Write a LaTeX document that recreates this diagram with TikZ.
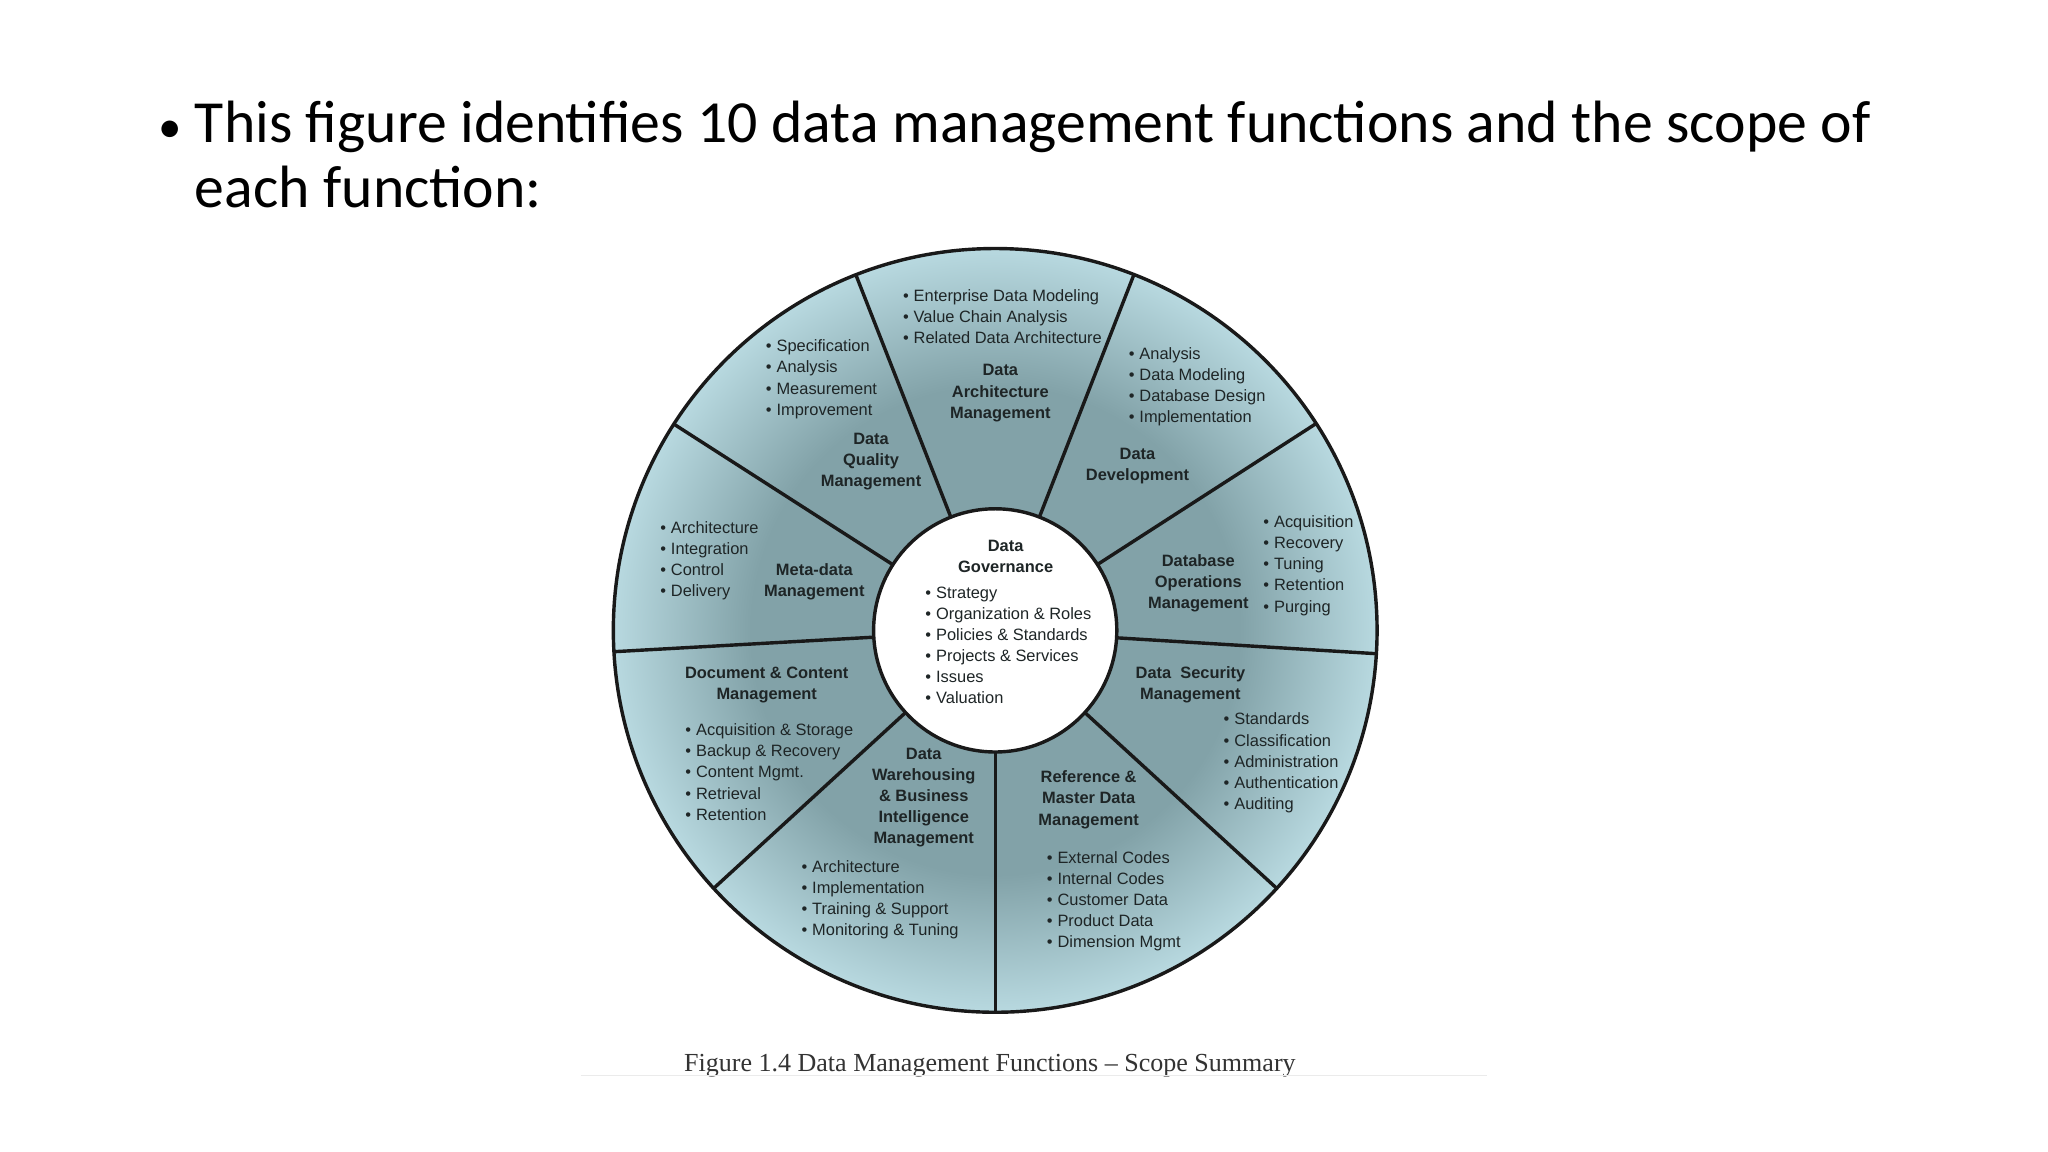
\documentclass[tikz,border=0pt]{standalone}
\usepackage{fontspec}
\usetikzlibrary{calc}
\setmainfont{Liberation Sans}
\newfontfamily\calib{Carlito}
\newfontfamily\capfont{Liberation Serif}
\definecolor{wdark}{HTML}{82A2A8}
\definecolor{wlight}{HTML}{BEDFE6}
\definecolor{wtxt}{HTML}{1E2526}
\pgfdeclareradialshading{wheelshade}{\pgfpoint{0bp}{0bp}}{color(0bp)=(wdark); color(16bp)=(wdark); color(26bp)=(wlight); color(50bp)=(wlight)}
\newcommand{\itm}{\textbullet\hspace{0.3em}}
\tikzset{
  lst/.style={anchor=west, align=left, inner sep=0pt, font=\fontsize{7.7}{9.9}\selectfont, text=wtxt},
  ttl/.style={anchor=center, align=center, inner sep=0pt, font=\fontsize{7.7}{9.9}\selectfont\bfseries, text=wtxt},
  rim/.style={line width=1.6pt, draw=black!90},
}
\begin{document}
\begin{tikzpicture}[x=1pt,y=1pt]
\useasboundingbox (0,0) rectangle (960,540);
\fill[white] (0,0) rectangle (960,540);
% title
\node[anchor=base west, inner sep=0pt, font=\calib\fontsize{28}{31}\selectfont] (bul) at (74.2,473.2) {\fontsize{22}{31}\selectfont•};
\node[anchor=base west, inner sep=0pt, font=\calib\fontsize{28}{31}\selectfont] (t1) at (91.2,473.2) {This figure identifies 10 data management functions and the scope of};
\node[anchor=base west, inner sep=0pt, font=\calib\fontsize{28}{31}\selectfont] (t2) at (91.2,442.9) {each function:};
% wheel
\coordinate (c) at (466.5,244.5);
\shade[shading=wheelshade] (c) circle (179);
\draw[rim] (c) circle (179);
\foreach \a in {111.4,68.7,32.8,-3.5,-42.5,-90,-137.5,183.2,147.3}
  \draw[rim] ($(c)+(\a:57)$) -- ($(c)+(\a:179)$);
\fill[white] (c) circle (57);
\draw[rim] (c) circle (57);
% labels
\node[lst] (dal) at (423.1,391.5) {\itm Enterprise Data Modeling\\\itm Value Chain Analysis\\\itm Related Data Architecture};
\node[ttl] (dat) at (468.9,355.7) {Data\\Architecture\\Management};
\node[lst] (dql) at (358.8,362.2) {\itm Specification\\\itm Analysis\\\itm Measurement\\\itm Improvement};
\node[ttl] (dqt) at (408.3,323.5) {Data\\Quality\\Management};
\node[lst] (ddl) at (528.9,358.7) {\itm Analysis\\\itm Data Modeling\\\itm Database Design\\\itm Implementation};
\node[ttl] (ddt) at (533.2,321.6) {Data\\Development};
\node[ttl] (dbt) at (561.7,266.6) {Database\\Operations\\Management};
\node[lst] (dbl) at (592.0,274.9) {\itm Acquisition\\\itm Recovery\\\itm Tuning\\\itm Retention\\\itm Purging};
\node[ttl] (dst) at (558.0,219.0) {Data\ \ Security\\Management};
\node[lst] (dsl) at (573.4,182.4) {\itm Standards\\\itm Classification\\\itm Administration\\\itm Authentication\\\itm Auditing};
\node[ttl] (rmt) at (510.3,165.1) {Reference \&\\Master Data\\Management};
\node[lst] (rml) at (490.5,117.5) {\itm External Codes\\\itm Internal Codes\\\itm Customer Data\\\itm Product Data\\\itm Dimension Mgmt};
\node[ttl] (dwt) at (433.0,166.1) {Data\\Warehousing\\\& Business\\Intelligence\\Management};
\node[lst] (dwl) at (375.5,118.1) {\itm Architecture\\\itm Implementation\\\itm Training \& Support\\\itm Monitoring \& Tuning};
\node[ttl] (dct) at (359.4,219.0) {Document \& Content\\Management};
\node[lst] (dcl) at (321.1,178.1) {\itm Acquisition \& Storage\\\itm Backup \& Recovery\\\itm Content Mgmt.\\\itm Retrieval\\\itm Retention};
\node[ttl] (mdt) at (381.7,267.2) {Meta-data\\Management};
\node[lst] (mdl) at (309.3,277.1) {\itm Architecture\\\itm Integration\\\itm Control\\\itm Delivery};
\node[ttl] (dgt) at (471.4,279.0) {Data\\Governance};
\node[lst] (dgl) at (433.6,237.5) {\itm Strategy\\\itm Organization \& Roles\\\itm Policies \& Standards\\\itm Projects \& Services\\\itm Issues\\\itm Valuation};
% caption
\node[anchor=base, inner sep=0pt, font=\capfont\fontsize{12.2}{14}\selectfont, text=black!80] (cap) at (464,37.5) {Figure 1.4 Data Management Functions – Scope Summary};
\draw[black!8, line width=0.6pt] (272.2,35.9) -- (697.2,35.9);
\end{tikzpicture}
\end{document}
